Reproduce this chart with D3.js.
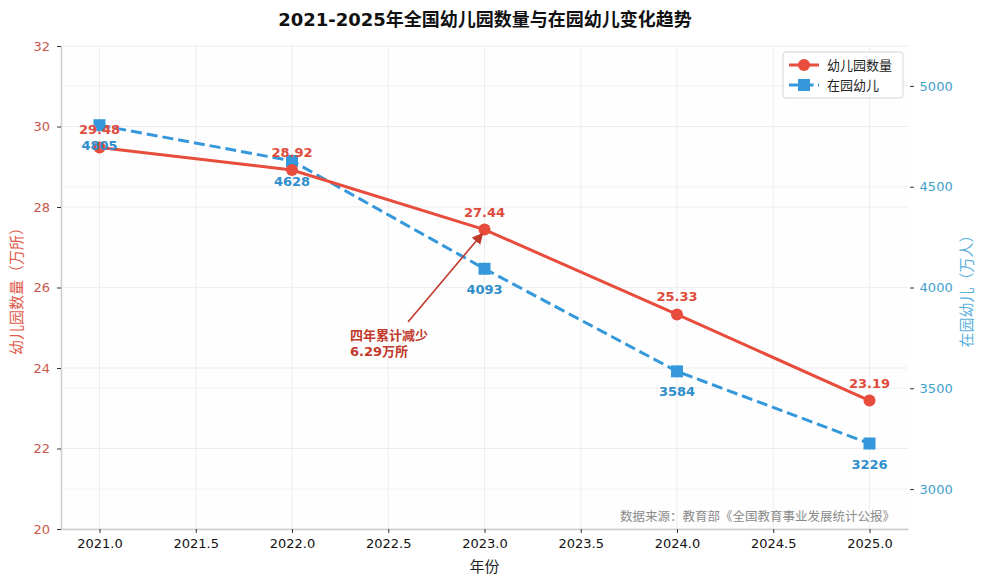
<!DOCTYPE html>
<html>
<head>
<meta charset="utf-8">
<script src="https://cdn.jsdelivr.net/npm/d3@7"></script>
<style>
  body { margin: 0; background: #fff; }
  text { font-family: "DejaVu Sans", "Noto Sans CJK SC", sans-serif; }
</style>
</head>
<body>
<div id="chart"></div>
<script>
// data
var years = [2021, 2022, 2023, 2024, 2025];
var kgCount = [29.48, 28.92, 27.44, 25.33, 23.19];      // 万所
var kidCount = [4805, 4628, 4093, 3584, 3226];          // 万人
var xTicks = [2021.0, 2021.5, 2022.0, 2022.5, 2023.0, 2023.5, 2024.0, 2024.5, 2025.0];
var leftTicks = [20, 22, 24, 26, 28, 30, 32];
var rightTicks = [3000, 3500, 4000, 4500, 5000];
var seriesNames = ["幼儿园数量", "在园幼儿"];

var W = 987, H = 586;
var m = {left: 61, right: 79, top: 46, bottom: 57};
var red = "#e74c3c", blue = "#3498db";

var svg = d3.select("#chart").append("svg")
  .attr("width", W).attr("height", H);

var x = d3.scaleLinear().domain([2020.8, 2025.2]).range([m.left, W - m.right]);
var yL = d3.scaleLinear().domain([20, 32]).range([H - m.bottom, m.top]);
var yR = d3.scaleLinear().domain([2802, 5198]).range([H - m.bottom, m.top]);

// plot background
svg.append("rect")
  .attr("x", m.left).attr("y", m.top)
  .attr("width", W - m.left - m.right).attr("height", H - m.top - m.bottom)
  .attr("fill", "#fefefe");

// grid lines (both y axes + x)
var grid = svg.append("g").attr("stroke", "#e8e8e8").attr("stroke-width", 0.8);
xTicks.forEach(function(t) {
  grid.append("line").attr("x1", x(t)).attr("x2", x(t)).attr("y1", m.top).attr("y2", H - m.bottom);
});
leftTicks.forEach(function(t) {
  grid.append("line").attr("x1", m.left).attr("x2", W - m.right).attr("y1", yL(t)).attr("y2", yL(t));
});
rightTicks.forEach(function(t) {
  grid.append("line").attr("x1", m.left).attr("x2", W - m.right).attr("y1", yR(t)).attr("y2", yR(t))
    .attr("stroke", "#f0f0f0");
});

// axes
var gx = svg.append("g").attr("transform", "translate(0," + (H - m.bottom) + ")")
  .call(d3.axisBottom(x).tickValues(xTicks).tickFormat(d3.format(".1f")).tickSize(4).tickSizeOuter(0));
gx.select(".domain").attr("stroke", "#cccccc").attr("stroke-width", 1.5);
gx.selectAll(".tick line").attr("stroke", "#333");
gx.selectAll(".tick text").attr("fill", "#111").attr("font-size", 13).attr("dy", "0.9em");

var gl = svg.append("g").attr("transform", "translate(" + m.left + ",0)")
  .call(d3.axisLeft(yL).tickValues(leftTicks).tickSize(4).tickSizeOuter(0));
gl.select(".domain").attr("stroke", "#cccccc").attr("stroke-width", 1.5);
gl.selectAll(".tick line").attr("stroke", "#333");
gl.selectAll(".tick text").attr("fill", "#c9574c").attr("font-size", 13).attr("dx", "-0.3em");

var gr = svg.append("g").attr("transform", "translate(" + (W - m.right + 2) + ",0)")
  .call(d3.axisRight(yR).tickValues(rightTicks).tickFormat(d3.format("d")).tickSize(4).tickSizeOuter(0));
gr.select(".domain").remove();
gr.selectAll(".tick line").attr("stroke", "#333");
gr.selectAll(".tick text").attr("fill", "#3f9fcc").attr("font-size", 13).attr("dx", "0.2em");

// titles
svg.append("text").attr("x", 485).attr("y", 26).attr("text-anchor", "middle")
  .attr("font-size", 18).attr("font-weight", "bold").attr("fill", "#111")
  .text("2021-2025年全国幼儿园数量与在园幼儿变化趋势");
svg.append("text").attr("x", x(2023)).attr("y", 572).attr("text-anchor", "middle")
  .attr("font-size", 15).attr("fill", "#222").text("年份");
svg.append("text").attr("transform", "translate(22," + yL(26) + ") rotate(-90)")
  .attr("text-anchor", "middle").attr("font-size", 15).attr("fill", "#e05a4b")
  .text("幼儿园数量（万所）");
svg.append("text").attr("transform", "translate(972," + yL(26) + ") rotate(-90)")
  .attr("text-anchor", "middle").attr("font-size", 15).attr("fill", "#5aafdc")
  .text("在园幼儿（万人）");

// series: 在园幼儿 (dashed, squares)
var kidData = years.map(function(y, i) { return {x: y, v: kidCount[i]}; });
var kgData = years.map(function(y, i) { return {x: y, v: kgCount[i]}; });

svg.append("path").datum(kidData)
  .attr("fill", "none").attr("stroke", blue).attr("stroke-width", 3)
  .attr("stroke-dasharray", "11,5")
  .attr("d", d3.line().x(function(d) { return x(d.x); }).y(function(d) { return yR(d.v); }));
svg.selectAll(".sq").data(kidData).enter().append("rect")
  .attr("x", function(d) { return x(d.x) - 6; })
  .attr("y", function(d) { return yR(d.v) - 6; })
  .attr("width", 12).attr("height", 12).attr("fill", blue);

// series: 幼儿园数量 (solid, circles)
svg.append("path").datum(kgData)
  .attr("fill", "none").attr("stroke", red).attr("stroke-width", 3)
  .attr("d", d3.line().x(function(d) { return x(d.x); }).y(function(d) { return yL(d.v); }));
svg.selectAll(".dot").data(kgData).enter().append("circle")
  .attr("cx", function(d) { return x(d.x); })
  .attr("cy", function(d) { return yL(d.v); })
  .attr("r", 6).attr("fill", red);

// value labels
svg.selectAll(".lblR").data(kgData).enter().append("text")
  .attr("x", function(d) { return x(d.x); })
  .attr("y", function(d) { return yL(d.v) - 13; })
  .attr("text-anchor", "middle").attr("font-size", 13).attr("font-weight", "bold")
  .attr("fill", "#e04b3b").text(function(d) { return d.v.toFixed(2); });
svg.selectAll(".lblB").data(kidData).enter().append("text")
  .attr("x", function(d) { return x(d.x); })
  .attr("y", function(d) { return yR(d.v) + 25; })
  .attr("text-anchor", "middle").attr("font-size", 13).attr("font-weight", "bold")
  .attr("fill", "#2f8fcc").text(function(d) { return d.v; });

// annotation
svg.append("defs").append("marker")
  .attr("id", "arr").attr("viewBox", "0 0 10 10").attr("refX", 9).attr("refY", 5)
  .attr("markerWidth", 7).attr("markerHeight", 7).attr("orient", "auto")
  .append("path").attr("d", "M0,0 L10,5 L0,10 Z").attr("fill", "#c0392b");
svg.append("line")
  .attr("x1", 408).attr("y1", 322)
  .attr("x2", x(2023) - 2).attr("y2", yL(27.44) + 4)
  .attr("stroke", "#c0392b").attr("stroke-width", 1.6)
  .attr("marker-end", "url(#arr)");
var ann = svg.append("text").attr("x", 350).attr("font-size", 13).attr("font-weight", "bold").attr("fill", "#c0392b");
ann.append("tspan").attr("x", 350).attr("y", 340).text("四年累计减少");
ann.append("tspan").attr("x", 350).attr("y", 356).text("6.29万所");

// source
svg.append("text").attr("x", 895).attr("y", 521).attr("text-anchor", "end")
  .attr("font-size", 12.5).attr("fill", "#8a8a8a")
  .text("数据来源：教育部《全国教育事业发展统计公报》");

// legend
var lg = svg.append("g").attr("transform", "translate(783,52)");
lg.append("rect").attr("width", 120).attr("height", 46).attr("rx", 3)
  .attr("fill", "#fff").attr("fill-opacity", 0.9).attr("stroke", "#d5d5d5");
lg.append("line").attr("x1", 6).attr("x2", 36).attr("y1", 13).attr("y2", 13)
  .attr("stroke", red).attr("stroke-width", 3);
lg.append("circle").attr("cx", 21).attr("cy", 13).attr("r", 6).attr("fill", red);
lg.append("line").attr("x1", 6).attr("x2", 36).attr("y1", 33).attr("y2", 33)
  .attr("stroke", blue).attr("stroke-width", 3).attr("stroke-dasharray", "10,4.5");
lg.append("rect").attr("x", 15).attr("y", 27).attr("width", 12).attr("height", 12).attr("fill", blue);
lg.selectAll(".lt").data(seriesNames).enter().append("text")
  .attr("x", 44).attr("y", function(d, i) { return 18 + i * 20; })
  .attr("font-size", 13).attr("fill", "#222").text(function(d) { return d; });
</script>
</body>
</html>
